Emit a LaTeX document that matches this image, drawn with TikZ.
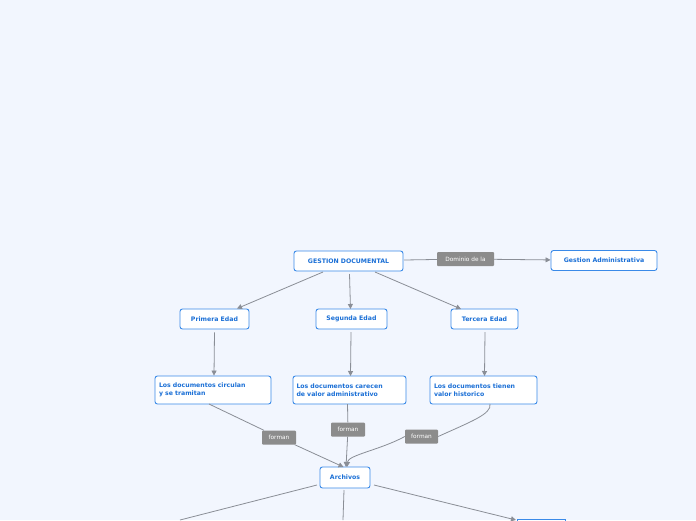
\documentclass[tikz,border=0pt]{standalone}
\usepackage{fontspec}
\setmainfont{DejaVu Sans}
\usetikzlibrary{arrows.meta}
\definecolor{bg}{HTML}{F2F6FE}
\definecolor{tx}{HTML}{1A6FD6}
\definecolor{bd}{HTML}{3A8AE8}
\definecolor{ln}{HTML}{8A8E96}
\definecolor{lb}{HTML}{8C8C8C}
\begin{document}
\begin{tikzpicture}[x=1pt,y=-1pt,
  box/.style={draw=bd,line width=0.9pt,fill=white,rounded corners=2.5pt,font=\fontsize{6.2}{8}\selectfont\bfseries,text=tx,inner sep=0pt,minimum height=20pt},
  lab/.style={fill=lb,text=white,font=\fontsize{5.8}{6}\selectfont,inner sep=0pt,minimum height=14pt,rounded corners=1pt},
  con/.style={draw=ln,line width=0.8pt},
  arr/.style={con,-{Triangle[length=5pt,width=5pt]}}]
\fill[bg] (0,0) rectangle (696,520);
\useasboundingbox (0,0) rectangle (696,520);
\node[box,minimum width=109pt] (gd) at (348.5,261) {GESTION DOCUMENTAL};
\node[box,minimum width=106pt] (ga) at (604,260.5) {Gestion Administrativa};
\node[lab,minimum width=57pt] (dom) at (465.5,259) {Dominio de la};
\node[box,minimum width=69pt] (p1) at (214.5,319) {Primera Edad};
\node[box,minimum width=71pt] (p2) at (351.5,319) {Segunda Edad};
\node[box,minimum width=67pt] (p3) at (484.5,319) {Tercera Edad};
\node[box,minimum width=116pt,minimum height=28pt,align=left,text width=108pt] (l1) at (213,390) {Los documentos circulan\\y se tramitan};
\node[box,minimum width=113pt,minimum height=28pt,align=left,text width=106pt] (l2) at (349.5,390) {Los documentos carecen\\de valor administrativo};
\node[box,minimum width=107pt,minimum height=28pt,align=left,text width=99pt] (l3) at (483.5,390) {Los documentos tienen\\valor historico};
\node[box,minimum width=50pt,minimum height=21pt] (ar) at (345,477.5) {Archivos};
\node[lab,minimum width=34pt] (f1) at (279,437.5) {forman};
\node[lab,minimum width=34pt] (f2) at (348,429.5) {forman};
\node[lab,minimum width=33pt] (f3) at (421.5,436.5) {forman};
\coordinate (c1) at (180,520);
\coordinate (c2) at (343,520);
\coordinate (c3) at (516,520);
\node[draw=bd,line width=0.9pt,fill=white,minimum width=48pt,minimum height=8pt,inner sep=0pt] (cut) at (541,523) {};
\draw[con] (404,260) -- (dom);
\draw[arr] (dom) -- (ga);
\draw[arr] (323,272) -- (p1.north -| 237,0);
\draw[arr] (349.5,274) -- (350.5,309);
\draw[arr] (375,272) -- (461,309);
\draw[arr] (p1.south) ++(0,3) -- (l1.north -| 214,0);
\draw[arr] (351,332) -- (350.5,376);
\draw[arr] (485,332) -- (484.5,376);
\draw[con] (209,404) -- (f1);
\draw[arr] (f1) -- (343.5,467);
\draw[con] (347.5,404) -- (f2);
\draw[arr] (f2) -- (346,467);
\draw[con] (490,404) .. controls (492,414) and (470,422) .. (f3.east);
\draw[arr] (f3.west) .. controls (380,450) and (348,455) .. (347,467);
\draw[con] (317,485) -- (c1);
\draw[con] (344,490) -- (c2);
\draw[arr] (374,485) -- (c3);
\end{tikzpicture}
\end{document}
